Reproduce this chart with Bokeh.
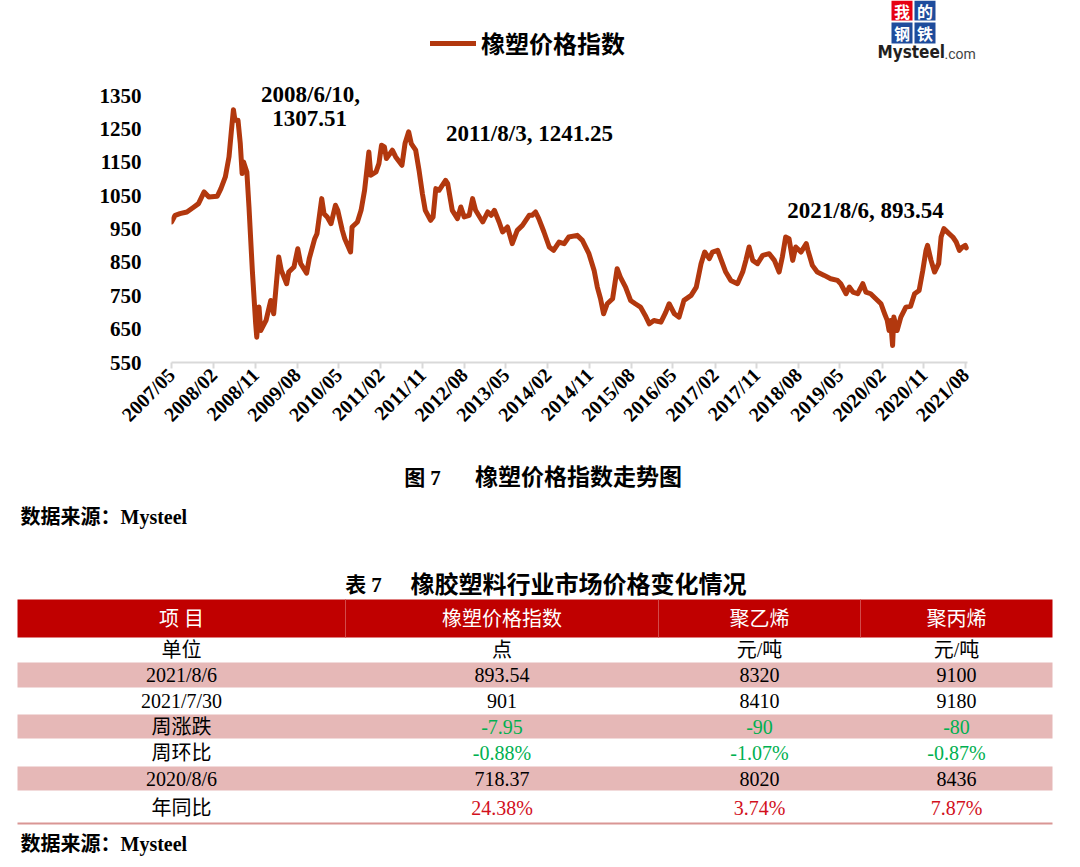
import math
import pandas as pd
from bokeh.plotting import figure
from bokeh.models import (Range1d, FixedTicker, Label, Legend, LegendItem,
                          BoxAnnotation, ColumnDataSource)
from bokeh.layouts import column
from bokeh.embed import file_html
from bokeh.resources import INLINE
from bokeh.core.properties import value

# ---------------- data ----------------
dates = [
    "2007-05-01", "2007-05-25", "2007-06-25", "2007-08-10", "2007-09-25", "2007-10-25",
    "2007-12-01", "2008-01-01", "2008-02-25", "2008-03-20", "2008-04-18", "2008-05-12",
    "2008-05-28", "2008-06-10", "2008-06-20", "2008-07-10", "2008-07-25", "2008-08-06",
    "2008-08-15", "2008-09-06", "2008-09-20", "2008-10-12", "2008-11-03", "2008-11-10",
    "2008-11-25", "2008-12-06", "2009-01-10", "2009-02-10", "2009-03-01", "2009-04-03",
    "2009-04-20", "2009-05-25", "2009-06-08", "2009-07-12", "2009-08-06", "2009-08-25",
    "2009-10-03", "2009-10-20", "2009-11-25", "2009-12-10", "2010-01-10", "2010-01-25",
    "2010-02-15", "2010-03-12", "2010-04-10", "2010-04-25", "2010-05-25", "2010-06-10",
    "2010-07-18", "2010-07-28", "2010-09-01", "2010-09-25", "2010-10-18", "2010-11-15",
    "2010-11-28", "2011-01-01", "2011-01-20", "2011-02-06", "2011-02-25", "2011-03-10",
    "2011-04-18", "2011-05-10", "2011-06-20", "2011-07-10", "2011-08-03", "2011-08-20",
    "2011-09-18", "2011-10-10", "2011-11-01", "2011-11-20", "2011-12-25", "2012-01-10",
    "2012-01-28", "2012-02-18", "2012-04-01", "2012-04-15", "2012-05-15", "2012-06-18",
    "2012-07-10", "2012-08-01", "2012-09-03", "2012-09-25", "2012-10-15", "2012-12-01",
    "2013-01-03", "2013-01-25", "2013-02-15", "2013-03-18", "2013-04-10", "2013-05-12",
    "2013-06-12", "2013-07-15", "2013-08-18", "2013-10-01", "2013-10-20", "2013-11-12",
    "2013-12-03", "2014-01-06", "2014-02-10", "2014-03-10", "2014-04-15", "2014-05-18",
    "2014-06-18", "2014-08-12", "2014-09-15", "2014-10-28", "2014-12-01", "2014-12-22",
    "2015-01-12", "2015-02-01", "2015-02-25", "2015-04-01", "2015-05-01", "2015-05-22",
    "2015-06-25", "2015-07-28", "2015-08-28", "2015-10-01", "2015-11-01", "2015-11-28",
    "2015-12-28", "2016-02-12", "2016-03-15", "2016-04-06", "2016-05-10", "2016-06-10",
    "2016-07-12", "2016-08-28", "2016-10-01", "2016-11-01", "2016-11-25", "2016-12-25",
    "2017-01-15", "2017-02-18", "2017-03-10", "2017-04-12", "2017-05-15", "2017-06-28",
    "2017-08-01", "2017-08-22", "2017-09-12", "2017-10-06", "2017-11-06", "2017-12-10",
    "2018-01-22", "2018-02-25", "2018-03-28", "2018-04-18", "2018-05-10", "2018-06-01",
    "2018-06-25", "2018-07-15", "2018-08-18", "2018-09-22", "2018-10-03", "2018-11-01",
    "2018-12-03", "2019-01-18", "2019-03-01", "2019-04-15", "2019-05-06", "2019-06-10",
    "2019-07-01", "2019-07-25", "2019-08-25", "2019-09-28", "2019-10-18", "2019-11-18",
    "2019-12-22", "2020-01-25", "2020-02-18", "2020-03-06", "2020-03-18", "2020-03-28",
    "2020-04-10", "2020-04-18", "2020-05-10", "2020-06-03", "2020-07-06", "2020-08-06",
    "2020-09-01", "2020-10-01", "2020-10-25", "2020-11-15", "2020-11-25", "2020-12-18",
    "2021-01-10", "2021-02-06", "2021-02-22", "2021-03-12", "2021-04-15", "2021-05-10",
    "2021-06-01", "2021-06-22", "2021-07-12", "2021-07-30", "2021-08-06",
]
index_values = [
    971, 991, 996, 1001, 1016, 1026,
    1061, 1046, 1048, 1071, 1106, 1166,
    1246, 1307.51, 1276, 1276, 1206, 1116,
    1151, 1121, 1016, 826, 666, 626,
    716, 646, 676, 736, 696, 866,
    826, 786, 821, 836, 891, 846,
    818, 861, 921, 936, 1041, 996,
    986, 966, 1021, 1006, 946, 921,
    881, 956, 971, 1006, 1066, 1181,
    1111, 1121, 1146, 1201, 1196, 1161,
    1186, 1166, 1141, 1206, 1241.25, 1206,
    1186, 1126, 1056, 1006, 976, 986,
    1071, 1066, 1096, 1086, 1006, 981,
    1016, 986, 991, 1041, 1006, 971,
    1001, 991, 1006, 971, 941, 956,
    906, 946, 961, 991, 991, 1001,
    981, 941, 896, 886, 911, 906,
    926, 931, 916, 876, 826, 776,
    741, 696, 726, 741, 831, 806,
    776, 736, 726, 716, 691, 666,
    676, 671, 701, 726, 696, 686,
    736, 751, 776, 846, 881, 861,
    881, 886, 861, 821, 796, 786,
    821, 856, 896, 856, 846, 871,
    876, 856, 821, 866, 926, 921,
    856, 896, 881, 906, 886, 841,
    821, 811, 801, 796, 786, 756,
    776, 761, 756, 786, 761, 756,
    741, 726, 696, 676, 646, 676,
    601, 686, 646, 686, 716, 718.37,
    756, 766, 826, 886, 901, 856,
    821, 846, 926, 951, 936, 926,
    911, 886, 896, 901, 893.54,
]
series_name = "橡塑价格指数"
x_tick_labels = ["2007/05", "2008/02", "2008/11", "2009/08", "2010/05", "2011/02",
                 "2011/11", "2012/08", "2013/05", "2014/02", "2014/11", "2015/08",
                 "2016/05", "2017/02", "2017/11", "2018/08", "2019/05", "2020/02",
                 "2020/11", "2021/08"]
y_ticks = [550, 650, 750, 850, 950, 1050, 1150, 1250, 1350]
callouts = [("2008/6/10,", "1307.51"), ("2011/8/3, 1241.25",), ("2021/8/6, 893.54",)]

table_header = ["项 目", "橡塑价格指数", "聚乙烯", "聚丙烯"]
row_labels = ["单位", "2021/8/6", "2021/7/30", "周涨跌", "周环比", "2020/8/6", "年同比"]
index_col = ["点", "893.54", "901", "-7.95", "-0.88%", "718.37", "24.38%"]
pe_col = ["元/吨", "8320", "8410", "-90", "-1.07%", "8020", "3.74%"]
pp_col = ["元/吨", "9100", "9180", "-80", "-0.87%", "8436", "7.87%"]

# ---------------- styles ----------------
SERIF = "Liberation Serif, Noto Sans CJK SC"
CJK = "Noto Sans CJK SC"
LINE_COLOR = "#B2380E"


def ms(s):
    return int(pd.Timestamp(s).value // 10**6)


# ---------------- chart ----------------
W1, H1 = 1080, 455
FL, FR, FB = 171, 1080, 362          # frame left/right/bottom in page px (frame top = 0)
T0_PX, T1_PX = 171, 965              # where 2007/05 and 2021/08 ticks sit
Y550_PX, Y1350_PX = 362, 95          # where 550 and 1350 sit

t0, t1 = ms("2007-05-01"), ms("2021-08-01")
ms_per_px = (t1 - t0) / (T1_PX - T0_PX)
x_start = t0 - (T0_PX - FL) * ms_per_px
x_end = t0 + (FR - T0_PX) * ms_per_px
val_per_px = (1350 - 550) / (Y550_PX - Y1350_PX)
y_start = 550 - (FB - Y550_PX) * val_per_px
y_end = 550 + Y550_PX * val_per_px

src = ColumnDataSource(dict(date=pd.to_datetime(dates), value=index_values))

p1 = figure(width=W1, height=H1, x_axis_type="datetime",
            x_range=Range1d(x_start, x_end), y_range=Range1d(y_start, y_end),
            output_backend="svg", toolbar_location=None,
            min_border_left=FL, min_border_top=0,
            min_border_right=W1 - FR, min_border_bottom=H1 - FB)
p1.frame_align = False
p1.outline_line_color = None
p1.grid.visible = False
p1.background_fill_color = "white"
p1.border_fill_color = "white"

r = p1.line(x="date", y="value", source=src, line_color=LINE_COLOR,
            line_width=5, line_join="round", line_cap="round")

tick_ms = [ms(t.replace("/", "-") + "-01") for t in x_tick_labels]
xa = p1.xaxis[0]
xa.ticker = FixedTicker(ticks=tick_ms)
xa.bounds = (t0, ms("2021-08-14"))
xa.major_label_overrides = {k: v for k, v in zip(tick_ms, x_tick_labels)}
xa.major_label_orientation = math.pi / 4
xa.major_label_text_font = SERIF
xa.major_label_text_font_style = "bold"
xa.major_label_text_font_size = "20px"
xa.major_label_text_color = "black"
xa.axis_line_color = "#D9D9D9"
xa.axis_line_width = 2
xa.major_tick_line_color = "#D9D9D9"
xa.major_tick_line_width = 2
xa.major_tick_out = 6
xa.major_tick_in = 0
xa.minor_tick_line_color = None
xa.major_label_standoff = 3

ya = p1.yaxis[0]
ya.ticker = FixedTicker(ticks=y_ticks)
ya.major_label_text_font = SERIF
ya.major_label_text_font_style = "bold"
ya.major_label_text_font_size = "21px"
ya.major_label_text_color = "black"
ya.axis_line_color = None
ya.major_tick_line_color = None
ya.minor_tick_line_color = None
ya.major_label_standoff = 24

legend = Legend(items=[LegendItem(label=series_name, renderers=[r])],
                location=(430 - FL, FB - 60), orientation="horizontal",
                glyph_width=46, glyph_height=26, label_standoff=5,
                padding=0, margin=0, border_line_color=None,
                background_fill_alpha=0,
                label_text_font=SERIF, label_text_font_style="bold",
                label_text_font_size="24px", label_text_color="black")
p1.add_layout(legend)


def slabel(plot, X, Y, text, size, color="black", style="bold", font=SERIF,
           align="center"):
    plot.add_layout(Label(x=X - FL, y=FB - Y, x_units="screen", y_units="screen",
                          text=text, text_align=align, text_baseline="middle",
                          text_font=font, text_font_style=style,
                          text_font_size=size, text_color=color))


slabel(p1, 310, 94, callouts[0][0], "23px")
slabel(p1, 309, 118, callouts[0][1], "23px")
slabel(p1, 529, 133, callouts[1][0], "23px")
slabel(p1, 865, 210, callouts[2][0], "23px")

# Mysteel logo
for (x0, x1, y0, y1, col, ch) in [(891, 912, 0, 20, "#E60012", "我"),
                                  (914, 935, 0, 20, "#1E4C9C", "的"),
                                  (891, 912, 22, 43, "#1E4C9C", "钢"),
                                  (914, 935, 22, 43, "#1E4C9C", "铁")]:
    p1.add_layout(BoxAnnotation(left=x0 - FL, right=x1 - FL, top=FB - y0, bottom=FB - y1,
                                left_units="screen", right_units="screen",
                                top_units="screen", bottom_units="screen",
                                fill_color=col, fill_alpha=1, line_color=None))
    slabel(p1, (x0 + x1) / 2, (y0 + y1) / 2, ch, "16px", color="white", font=CJK)
slabel(p1, 877, 51, "Mysteel", "17px", color="#231F20",
       font="Liberation Sans Narrow, DejaVu Sans Condensed, Roboto Condensed, Roboto",
       align="left")
slabel(p1, 944, 53, ".com", "14px", color="#444444", font="Roboto", style="normal",
       align="left")

# ---------------- lower part: captions and table ----------------
Y0 = H1
H2 = 867 - H1
p2 = figure(width=W1, height=H2, x_range=Range1d(0, W1), y_range=Range1d(867, Y0),
            output_backend="svg", toolbar_location=None,
            x_axis_location=None, y_axis_location=None,
            min_border=0, min_border_left=0, min_border_right=0,
            min_border_top=0, min_border_bottom=0)
p2.frame_align = False
p2.outline_line_color = None
p2.grid.visible = False
p2.background_fill_color = "white"
p2.border_fill_color = "white"


def ptext(X, Y, t, size, color="black", style="bold", font=SERIF, align="center"):
    p2.text(x=[X], y=[Y], text=[t], text_align=align, text_baseline="middle",
            text_font=value(font), text_font_style=style,
            text_font_size=value(size), text_color=color)


ptext(422, 477, "图 7", "21px")
ptext(578, 477, "橡塑价格指数走势图", "23px")
ptext(20, 516, "数据来源：Mysteel", "20px", align="left")
ptext(363, 584, "表 7", "21px")
ptext(578, 584, "橡胶塑料行业市场价格变化情况", "24px")
ptext(20, 843, "数据来源：Mysteel", "20px", align="left")

col_edges = [17, 345, 658, 860, 1052]
row_edges = [599, 637, 661, 688, 713, 739, 765, 791, 823]
col_centers = [(a + b) / 2 for a, b in zip(col_edges[:-1], col_edges[1:])]

# header background
p2.quad(left=[col_edges[0]], right=[col_edges[-1]], top=[row_edges[0]],
        bottom=[row_edges[1]], fill_color="#C00000", line_color=None)
p2.segment(x0=col_edges[1:-1], x1=col_edges[1:-1], y0=[row_edges[0]] * 3,
           y1=[row_edges[1]] * 3, line_color="#D24A4A", line_width=1)

# shaded body rows
body_n = len(row_labels)
shade = [i for i in range(body_n) if i % 2 == 1]
p2.quad(left=[col_edges[0]] * len(shade), right=[col_edges[-1]] * len(shade),
        top=[row_edges[i + 1] + 1 for i in shade],
        bottom=[row_edges[i + 2] - 1 for i in shade],
        fill_color="#E6B8B7", line_color=None)
p2.segment(x0=[col_edges[0]], x1=[col_edges[-1]], y0=[row_edges[-1]], y1=[row_edges[-1]],
           line_color="#D99694", line_width=2)

# header text
head_src = ColumnDataSource(dict(x=col_centers, y=[(row_edges[0] + row_edges[1]) / 2] * 4,
                                 text=table_header))
p2.text(x="x", y="y", text="text", source=head_src, text_align="center",
        text_baseline="middle", text_font=value(SERIF), text_font_size=value("20px"),
        text_color="white")

# body text
cols = [row_labels, index_col, pe_col, pp_col]
xs, ys, ts, cs = [], [], [], []
for ci, colvals in enumerate(cols):
    for ri, t in enumerate(colvals):
        xs.append(col_centers[ci])
        ys.append((row_edges[ri + 1] + row_edges[ri + 2]) / 2)
        ts.append(t)
        if ci == 0:
            cs.append("black")
        elif row_labels[ri] in ("周涨跌", "周环比"):
            cs.append("#00B050")
        elif row_labels[ri] == "年同比":
            cs.append("#D2101C")
        else:
            cs.append("black")
body_src = ColumnDataSource(dict(x=xs, y=ys, text=ts, color=cs))
p2.text(x="x", y="y", text="text", color="color", source=body_src, text_align="center",
        text_baseline="middle", text_font=value(SERIF), text_font_size=value("20px"))

layout = column(p1, p2, spacing=0)
open("out.html", "w").write(file_html(layout, INLINE))
